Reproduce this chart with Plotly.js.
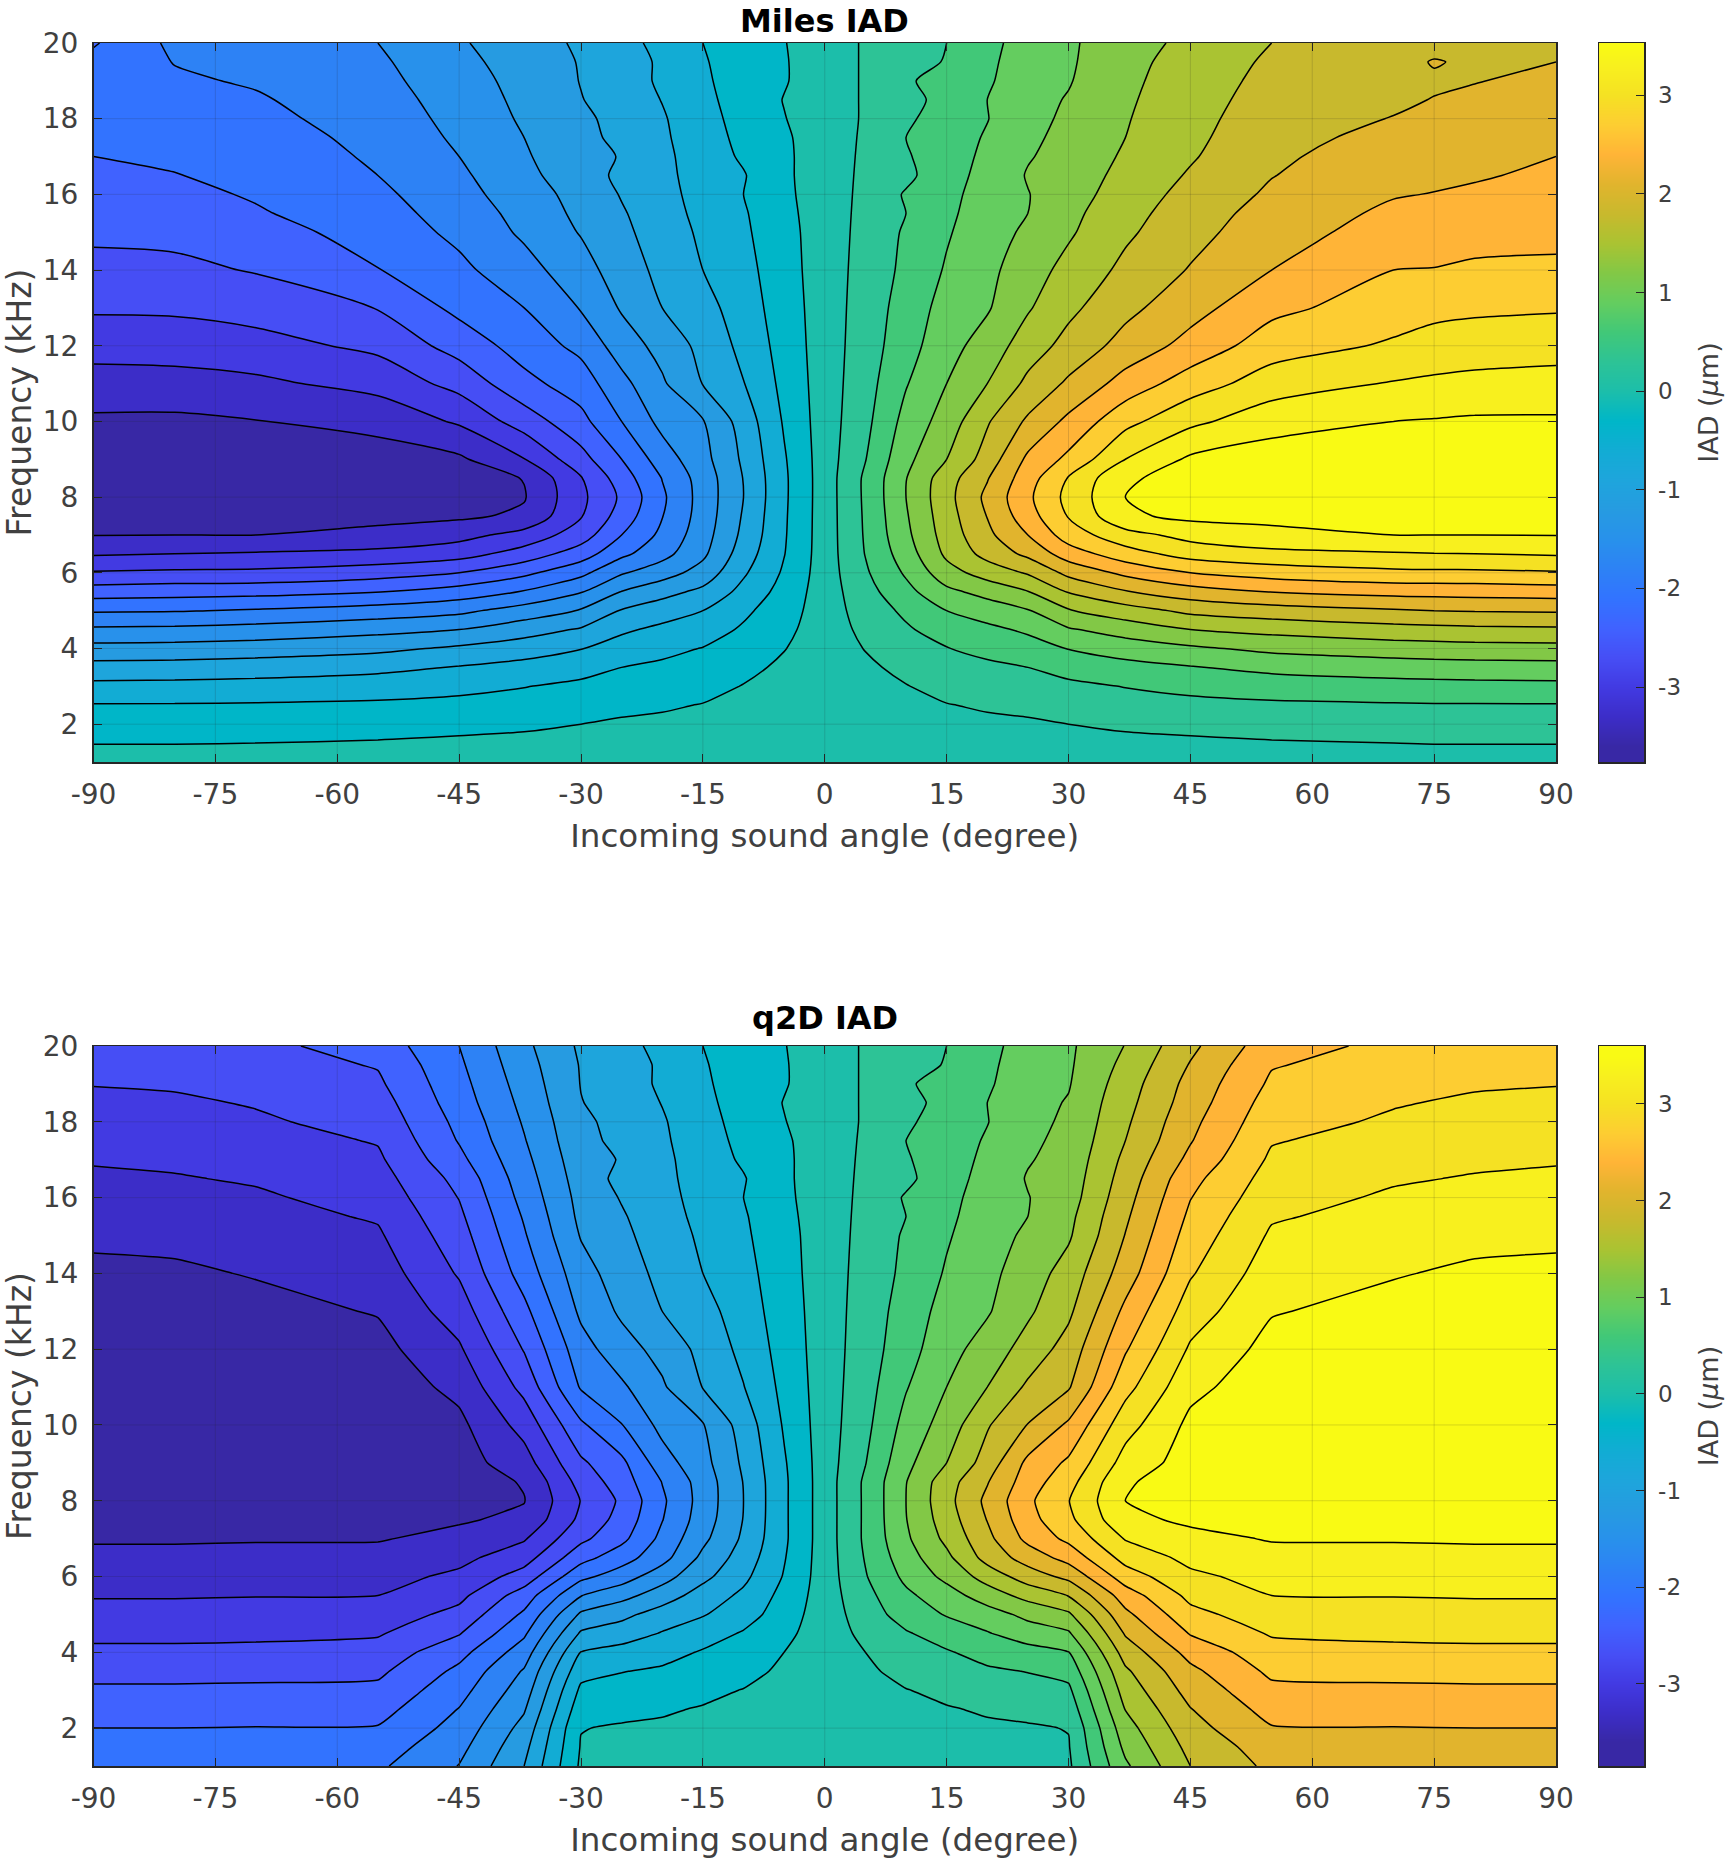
<!DOCTYPE html>
<html><head><meta charset="utf-8">
<script src="https://cdn.plot.ly/plotly-3.0.1.min.js"></script>
<style>html,body{margin:0;padding:0;background:#fff}</style></head>
<body><div id="chart" style="width:1725px;height:1860px"></div>
<script>
const frequencies=[1,1.5,2,2.5,3,3.5,4,4.5,5,5.5,6,6.5,7,7.5,8,8.5,9,10,11,12,13,14,15,15.5,16,16.5,17,17.5,18,18.5,19,19.5,20];
const anglesMiles=[-90,-80,-70,-55,-45,-37,-30,-25,-20,-15,-10,-5,0,5,10,15,20,25,30,37,45,55,70,75,80,90];
const anglesQ2D=[-90,-80,-70,-55,-45,-37,-30,-25,-20,-15,-10,-5,0,5,10,15,20,25,30,37,45,55,70,80,90];
const iadMiles=[
[0,0,0,-.02,-.02,-.03,-.03,-.02,-.02,-.01,-.01,0,0,0,.01,.01,.02,.02,.03,.03,.02,.02,0,0,0,0],
[-.16,-.16,-.15,-.13,-.1,-.09,-.07,-.06,-.05,-.04,-.03,-.01,0,.01,.03,.04,.05,.06,.07,.09,.1,.13,.15,.16,.16,.16],
[-.3,-.3,-.28,-.25,-.23,-.19,-.15,-.11,-.1,-.09,-.06,-.02,0,.02,.06,.09,.1,.11,.15,.19,.23,.25,.28,.29,.3,.3],
[-.43,-.43,-.42,-.4,-.37,-.32,-.27,-.22,-.18,-.14,-.1,-.03,0,.03,.1,.14,.18,.22,.27,.32,.37,.4,.42,.43,.43,.43],
[-.67,-.66,-.64,-.59,-.53,-.46,-.38,-.34,-.29,-.23,-.14,-.06,0,.06,.14,.23,.29,.34,.38,.46,.53,.59,.64,.65,.66,.67],
[-.94,-.93,-.9,-.83,-.73,-.65,-.57,-.45,-.4,-.33,-.22,-.1,0,.1,.22,.33,.4,.45,.57,.65,.73,.83,.9,.92,.93,.94],
[-1.25,-1.24,-1.2,-1.12,-1,-.89,-.76,-.62,-.52,-.44,-.31,-.16,0,.16,.31,.44,.52,.62,.76,.89,1,1.12,1.2,1.22,1.24,1.25],
[-1.6,-1.58,-1.54,-1.44,-1.35,-1.18,-1.02,-.8,-.68,-.59,-.41,-.22,0,.22,.41,.59,.68,.8,1.02,1.18,1.35,1.44,1.54,1.56,1.58,1.6],
[-1.98,-1.97,-1.92,-1.82,-1.72,-1.52,-1.33,-1.03,-.89,-.75,-.51,-.28,0,.28,.51,.75,.89,1.03,1.33,1.52,1.72,1.82,1.92,1.95,1.97,1.98],
[-2.4,-2.37,-2.35,-2.26,-2.12,-1.93,-1.67,-1.34,-1.15,-.98,-.66,-.34,0,.34,.66,.98,1.15,1.34,1.67,1.93,2.12,2.26,2.35,2.36,2.37,2.4],
[-2.82,-2.79,-2.78,-2.68,-2.55,-2.32,-2.03,-1.68,-1.48,-1.23,-.79,-.41,0,.41,.79,1.23,1.48,1.68,2.03,2.32,2.55,2.68,2.78,2.79,2.79,2.82],
[-3.18,-3.15,-3.12,-3.07,-2.97,-2.72,-2.4,-2.02,-1.75,-1.41,-.9,-.46,0,.46,.9,1.41,1.75,2.02,2.4,2.72,2.97,3.07,3.12,3.14,3.15,3.18],
[-3.46,-3.45,-3.45,-3.37,-3.25,-3.04,-2.7,-2.25,-1.88,-1.48,-.98,-.48,0,.48,.98,1.48,1.88,2.25,2.7,3.04,3.25,3.37,3.45,3.45,3.45,3.46],
[-3.62,-3.62,-3.6,-3.53,-3.5,-3.4,-2.87,-2.42,-1.96,-1.52,-1.02,-.49,0,.49,1.02,1.52,1.96,2.42,2.87,3.4,3.52,3.53,3.6,3.61,3.62,3.62],
[-3.72,-3.72,-3.7,-3.63,-3.57,-3.47,-2.92,-2.5,-2,-1.53,-1.05,-.5,0,.5,1.05,1.55,2.02,2.49,2.94,3.45,3.57,3.63,3.7,3.71,3.72,3.72],
[-3.76,-3.75,-3.73,-3.67,-3.58,-3.44,-2.87,-2.4,-1.94,-1.52,-1.04,-.5,0,.5,1.04,1.52,1.93,2.42,2.87,3.42,3.53,3.66,3.72,3.74,3.75,3.76],
[-3.72,-3.7,-3.67,-3.58,-3.5,-3.16,-2.66,-2.25,-1.8,-1.45,-1,-.48,0,.44,.97,1.35,1.78,2.31,2.62,3.15,3.5,3.6,3.64,3.66,3.68,3.72],
[-3.5,-3.51,-3.46,-3.36,-3.11,-2.71,-2.34,-1.95,-1.56,-1.37,-.92,-.42,0,.37,.85,1.18,1.62,2,2.32,2.76,3.08,3.33,3.45,3.47,3.49,3.49],
[-3.28,-3.26,-3.21,-3.05,-2.75,-2.34,-2.1,-1.74,-1.39,-1.04,-.76,-.37,0,.33,.73,1.05,1.35,1.72,2,2.37,2.7,3,3.17,3.21,3.24,3.26],
[-3.03,-3.02,-2.96,-2.78,-2.43,-2.12,-1.87,-1.5,-1.25,-.96,-.67,-.33,0,.3,.63,.94,1.18,1.5,1.75,2.06,2.35,2.71,2.89,2.95,2.99,3.03],
[-2.81,-2.8,-2.73,-2.54,-2.17,-1.95,-1.63,-1.32,-1.05,-.86,-.6,-.3,0,.28,.58,.86,1.02,1.32,1.58,1.87,2.14,2.47,2.71,2.78,2.8,2.82],
[-2.64,-2.62,-2.53,-2.26,-2.02,-1.76,-1.47,-1.2,-.97,-.75,-.55,-.27,0,.26,.52,.78,.97,1.22,1.44,1.72,1.97,2.25,2.55,2.56,2.6,2.6],
[-2.49,-2.47,-2.37,-2.13,-1.88,-1.6,-1.33,-1.12,-.9,-.7,-.5,-.25,0,.24,.49,.72,.93,1.1,1.31,1.6,1.85,2.13,2.37,2.41,2.44,2.48],
[-2.43,-2.4,-2.28,-2.07,-1.82,-1.55,-1.28,-1.08,-.87,-.67,-.48,-.23,0,.23,.45,.69,.9,1.05,1.27,1.55,1.8,2.07,2.31,2.34,2.37,2.42],
[-2.37,-2.33,-2.22,-2.01,-1.77,-1.47,-1.26,-1.03,-.85,-.64,-.45,-.21,0,.22,.48,.67,.87,1.04,1.21,1.5,1.74,2,2.23,2.26,2.3,2.37],
[-2.3,-2.26,-2.17,-1.95,-1.71,-1.41,-1.22,-.97,-.83,-.62,-.47,-.2,0,.21,.38,.64,.84,1.07,1.18,1.44,1.68,1.94,2.17,2.19,2.22,2.31],
[-2.25,-2.2,-2.12,-1.91,-1.65,-1.38,-1.17,-1.03,-.82,-.6,-.41,-.2,0,.2,.42,.62,.81,1.03,1.15,1.39,1.62,1.9,2.1,2.13,2.17,2.25],
[-2.2,-2.15,-2.08,-1.87,-1.6,-1.35,-1.13,-.98,-.8,-.57,-.38,-.19,0,.19,.45,.6,.78,1,1.12,1.35,1.58,1.86,2.03,2.07,2.11,2.19],
[-2.17,-2.1,-2.03,-1.82,-1.56,-1.31,-1.1,-.97,-.78,-.55,-.35,-.16,0,.18,.41,.56,.74,.98,1.09,1.33,1.55,1.82,1.96,2.01,2.05,2.13],
[-2.14,-2.05,-1.98,-1.78,-1.52,-1.28,-1.06,-.93,-.74,-.52,-.33,-.14,0,.18,.37,.53,.75,.95,1.07,1.31,1.52,1.78,1.9,1.96,2,2.07],
[-2.12,-1.99,-1.92,-1.74,-1.47,-1.26,-1.04,-.9,-.7,-.5,-.3,-.17,0,.18,.43,.51,.71,.93,1.03,1.29,1.49,1.74,1.87,1.91,1.94,2.01],
[-2.16,-1.94,-1.86,-1.7,-1.42,-1.24,-1.03,-.84,-.72,-.48,-.28,-.17,0,.18,.33,.47,.69,.9,1.01,1.27,1.46,1.7,1.84,1.97,1.9,1.95],
[-2.28,-1.88,-1.8,-1.65,-1.38,-1.2,-1,-.83,-.68,-.45,-.25,-.16,0,.18,.31,.45,.67,.87,1,1.25,1.41,1.65,1.8,1.84,1.87,1.88]
];
const iadQ2D=[
[-2.06,-2.06,-2.05,-2,-1.64,-1.05,-.1,-.02,-.02,-.01,-.01,0,0,0,.01,.01,.02,.02,.1,1,1.65,2.02,2.06,2.06,2.06],
[-2.15,-2.15,-2.14,-2.1,-1.74,-1.14,-.13,-.06,-.05,-.03,-.02,-.01,0,.01,.02,.03,.05,.06,.13,1.12,1.74,2.1,2.14,2.15,2.15],
[-2.25,-2.25,-2.24,-2.23,-1.84,-1.25,-.16,-.12,-.11,-.08,-.04,-.02,0,.02,.04,.08,.11,.12,.16,1.23,1.84,2.23,2.24,2.25,2.25],
[-2.38,-2.38,-2.37,-2.36,-1.94,-1.38,-.27,-.23,-.18,-.13,-.08,-.03,0,.03,.08,.13,.18,.23,.27,1.36,1.94,2.36,2.37,2.38,2.38],
[-2.5,-2.5,-2.49,-2.48,-2.06,-1.5,-.39,-.34,-.29,-.22,-.14,-.05,0,.05,.14,.22,.29,.34,.39,1.48,2.06,2.48,2.49,2.5,2.5],
[-2.65,-2.65,-2.64,-2.61,-2.18,-1.62,-.55,-.46,-.4,-.32,-.25,-.09,0,.09,.25,.32,.4,.46,.55,1.6,2.18,2.61,2.64,2.65,2.65],
[-2.79,-2.79,-2.78,-2.73,-2.35,-1.8,-.74,-.64,-.57,-.42,-.33,-.15,0,.15,.33,.42,.57,.64,.74,1.78,2.35,2.73,2.78,2.79,2.79],
[-2.92,-2.92,-2.91,-2.88,-2.57,-2,-1.01,-.9,-.73,-.6,-.42,-.22,0,.22,.42,.6,.73,.9,1.01,1.98,2.57,2.88,2.91,2.92,2.92],
[-3.05,-3.05,-3.04,-3.02,-2.76,-2.2,-1.3,-1.13,-.92,-.77,-.59,-.29,0,.29,.59,.77,.92,1.13,1.3,2.18,2.76,3.02,3.04,3.05,3.05],
[-3.17,-3.17,-3.16,-3.15,-2.93,-2.41,-1.66,-1.45,-1.2,-.92,-.69,-.36,0,.36,.69,.92,1.2,1.45,1.66,2.4,2.93,3.15,3.16,3.17,3.17],
[-3.27,-3.27,-3.26,-3.25,-3.09,-2.72,-2.03,-1.8,-1.47,-1.13,-.82,-.43,0,.43,.82,1.13,1.47,1.8,2.03,2.7,3.09,3.25,3.26,3.27,3.27],
[-3.38,-3.38,-3.37,-3.36,-3.23,-2.98,-2.36,-2.08,-1.76,-1.28,-.92,-.47,0,.47,.92,1.28,1.76,2.08,2.36,2.96,3.23,3.36,3.37,3.38,3.38],
[-3.48,-3.48,-3.47,-3.47,-3.37,-3.18,-2.62,-2.33,-1.87,-1.42,-1,-.5,0,.5,1,1.42,1.87,2.33,2.62,3.17,3.37,3.47,3.47,3.48,3.48],
[-3.56,-3.56,-3.55,-3.53,-3.48,-3.39,-2.78,-2.44,-1.96,-1.5,-1.04,-.5,0,.5,1.04,1.5,1.96,2.44,2.78,3.38,3.5,3.53,3.55,3.56,3.56],
[-3.63,-3.63,-3.62,-3.58,-3.55,-3.46,-2.84,-2.5,-2,-1.53,-1.05,-.5,0,.5,1.05,1.55,2.02,2.49,2.84,3.45,3.55,3.58,3.62,3.63,3.63],
[-3.69,-3.69,-3.68,-3.62,-3.58,-3.43,-2.74,-2.4,-1.94,-1.52,-1.04,-.5,0,.5,1.04,1.52,1.93,2.4,2.74,3.42,3.58,3.62,3.68,3.69,3.69],
[-3.74,-3.74,-3.72,-3.65,-3.58,-3.28,-2.6,-2.32,-1.78,-1.45,-1,-.48,0,.44,.97,1.35,1.78,2.32,2.6,3.27,3.58,3.65,3.72,3.74,3.74],
[-3.82,-3.8,-3.75,-3.67,-3.52,-3.04,-2.3,-1.96,-1.56,-1.37,-.92,-.42,0,.37,.85,1.18,1.62,1.96,2.3,3.03,3.52,3.67,3.75,3.8,3.82],
[-3.82,-3.78,-3.72,-3.63,-3.37,-2.76,-1.92,-1.7,-1.39,-1.04,-.76,-.37,0,.33,.73,1.05,1.35,1.7,1.92,2.75,3.37,3.63,3.72,3.78,3.82],
[-3.72,-3.7,-3.64,-3.55,-3.19,-2.53,-1.77,-1.47,-1.25,-.96,-.67,-.33,0,.3,.63,.94,1.18,1.47,1.77,2.52,3.19,3.55,3.64,3.7,3.72],
[-3.63,-3.6,-3.55,-3.43,-3,-2.33,-1.59,-1.3,-1.05,-.86,-.6,-.3,0,.28,.58,.86,1.02,1.3,1.59,2.32,3,3.43,3.55,3.6,3.63],
[-3.52,-3.5,-3.43,-3.31,-2.82,-2.12,-1.47,-1.2,-.97,-.75,-.55,-.27,0,.26,.52,.78,.97,1.2,1.47,2.1,2.82,3.31,3.43,3.5,3.52],
[-3.39,-3.37,-3.3,-3.19,-2.68,-1.98,-1.33,-1.12,-.9,-.7,-.5,-.25,0,.24,.49,.72,.93,1.1,1.31,1.96,2.68,3.19,3.3,3.37,3.39],
[-3.33,-3.31,-3.25,-3.12,-2.61,-1.92,-1.28,-1.08,-.87,-.67,-.48,-.23,0,.23,.45,.69,.9,1.05,1.27,1.9,2.61,3.12,3.25,3.31,3.33],
[-3.26,-3.24,-3.19,-3.04,-2.54,-1.85,-1.25,-1.03,-.85,-.64,-.45,-.21,0,.22,.48,.67,.87,1.04,1.21,1.84,2.54,3.04,3.19,3.24,3.26],
[-3.19,-3.17,-3.12,-2.97,-2.46,-1.79,-1.21,-.97,-.83,-.62,-.47,-.2,0,.21,.38,.64,.84,1.07,1.18,1.78,2.46,2.97,3.12,3.17,3.19],
[-3.13,-3.1,-3.05,-2.9,-2.33,-1.73,-1.17,-1.03,-.82,-.6,-.41,-.2,0,.2,.42,.62,.81,1.03,1.15,1.72,2.33,2.9,3.05,3.1,3.13],
[-3.07,-3.03,-2.97,-2.83,-2.23,-1.67,-1.13,-.98,-.8,-.57,-.38,-.19,0,.19,.45,.6,.78,1,1.12,1.65,2.23,2.83,2.97,3.03,3.07],
[-2.98,-2.96,-2.89,-2.75,-2.17,-1.62,-1.1,-.97,-.78,-.55,-.35,-.16,0,.18,.41,.56,.74,.98,1.09,1.6,2.17,2.75,2.89,2.96,2.98],
[-2.91,-2.89,-2.83,-2.68,-2.1,-1.57,-1.06,-.93,-.74,-.52,-.33,-.14,0,.18,.37,.53,.75,.95,1.07,1.55,2.1,2.68,2.83,2.89,2.91],
[-2.84,-2.82,-2.75,-2.6,-2.05,-1.52,-1.04,-.9,-.7,-.5,-.3,-.17,0,.18,.43,.51,.71,.93,1.03,1.5,2.05,2.6,2.75,2.82,2.84],
[-2.78,-2.74,-2.68,-2.53,-2,-1.47,-1.03,-.84,-.72,-.48,-.28,-.17,0,.18,.33,.47,.69,.9,1.01,1.43,1.97,2.53,2.68,2.74,2.78],
[-2.7,-2.67,-2.62,-2.43,-1.95,-1.42,-1,-.83,-.68,-.45,-.25,-.16,0,.18,.31,.45,.67,.87,1,1.36,1.88,2.43,2.62,2.67,2.7]
];
const angleTicks=[-90,-75,-60,-45,-30,-15,0,15,30,45,60,75,90];
const freqTicks=[2,4,6,8,10,12,14,16,18,20];
const barTicks=[-3,-2,-1,0,1,2,3];
const bandValues=[-3.6,-3.3,-3,-2.7,-2.4,-2.1,-1.8,-1.5,-1.2,-.9,-.6,-.3,0,.3,.6,.9,1.2,1.5,1.8,2.1,2.4,2.7,3,3.3,3.5];
const bandColors=['rgb(56,40,165)','rgb(60,45,200)','rgb(66,58,226)','rgb(70,78,245)','rgb(64,98,255)','rgb(50,115,255)','rgb(45,130,245)','rgb(40,145,235)','rgb(38,155,225)','rgb(30,165,220)','rgb(18,172,212)','rgb(0,182,200)','rgb(28,190,170)','rgb(45,195,150)','rgb(65,200,120)','rgb(100,205,95)','rgb(130,200,70)','rgb(170,195,50)','rgb(200,185,45)','rgb(225,180,45)','rgb(255,180,55)','rgb(253,205,50)','rgb(245,225,35)','rgb(248,240,30)','rgb(249,250,20)'];
const barRangeMiles=[-3.76,3.53];
const barRangeQ2D=[-3.85,3.6];

const W=1725,H=1860;
const px=(a,b)=>[a/W,b/W], py=(top,bottom)=>[1-bottom/H,1-top/H];
const ink='#262626', txt='#404040', font='"DejaVu Sans",sans-serif';
const bandScale=bandColors.map((c,i)=>[i/(bandColors.length-1),c]);
function contour(x,z,xa,ya,smooth){return {type:'contour',x:x,y:frequencies,z:z,xaxis:xa,yaxis:ya,showscale:false,autocontour:false,
  contours:{start:-3.45,end:3.45,size:.3,coloring:'fill',showlines:true},line:{color:'#000',width:1.5,smoothing:smooth},colorscale:bandScale,hoverinfo:'skip'};}
function bar(r,xa,ya){
  const stops=[[0,bandColors[0]]];
  bandValues.forEach((v,i)=>{if(v>r[0]&&v<r[1])stops.push([(v-r[0])/(r[1]-r[0]),bandColors[i]]);});
  stops.push([1,bandColors[bandColors.length-1]]);
  return {type:'heatmap',x:[0,1],y:r,z:[[r[0],r[0]],[r[1],r[1]]],zmin:r[0],zmax:r[1],zsmooth:'best',colorscale:stops,showscale:false,xaxis:xa,yaxis:ya,hoverinfo:'skip'};
}
function mainX(domain,anchor){return {domain:domain,anchor:anchor,range:[-90,90],tickvals:angleTicks,ticktext:angleTicks.map(String),ticks:'inside',ticklen:8,tickwidth:1,tickcolor:ink,ticklabelstandoff:7,
  showline:true,linecolor:ink,linewidth:1.5,mirror:'ticks',showgrid:false,zeroline:false,layer:'above traces',tickfont:{family:font,size:28,color:txt},
  title:{text:'Incoming sound angle (degree)',font:{family:font,size:32.5,color:txt},standoff:14}};}
function mainY(domain,anchor){return {domain:domain,anchor:anchor,range:[1,20],tickvals:freqTicks,ticktext:freqTicks.map(String),ticks:'inside',ticklen:8,tickwidth:1,tickcolor:ink,ticklabelstandoff:8,
  showline:true,linecolor:ink,linewidth:1.5,mirror:'ticks',showgrid:false,zeroline:false,layer:'above traces',tickfont:{family:font,size:28,color:txt},
  title:{text:'Frequency (kHz)',font:{family:font,size:33,color:txt},standoff:10}};}
function barX(domain,anchor){return {domain:domain,anchor:anchor,range:[0,1],showticklabels:false,ticks:'',showline:true,linecolor:ink,linewidth:1.5,mirror:true,showgrid:false,zeroline:false};}
function barY(domain,anchor,r){return {domain:domain,anchor:anchor,side:'right',range:r,tickvals:barTicks,ticktext:barTicks.map(String),ticks:'inside',ticklen:8,tickwidth:1,tickcolor:ink,ticklabelstandoff:8,
  showline:true,linecolor:ink,linewidth:1.5,mirror:true,showgrid:false,zeroline:false,layer:'above traces',tickfont:{family:font,size:23,color:txt},
  title:{text:'IAD (<i>μ</i>m)',font:{family:font,size:27,color:txt},standoff:19}};}
const gridStyle={color:'rgba(38,38,38,0.16)',width:1};
function gridShapes(xr,yr){
  const s=[];
  angleTicks.slice(1,-1).forEach(v=>s.push({type:'line',xref:xr,yref:yr+' domain',x0:v,x1:v,y0:0,y1:1,line:gridStyle,layer:'above'}));
  freqTicks.slice(0,-1).forEach(v=>s.push({type:'line',xref:xr+' domain',yref:yr,x0:0,x1:1,y0:v,y1:v,line:gridStyle,layer:'above'}));
  return s;
}
function heading(text,top){return {text:'<b>'+text+'</b>',xref:'paper',yref:'paper',x:824.5/W,y:1-top/H,xanchor:'center',yanchor:'middle',showarrow:false,font:{family:font,size:32,color:'#000'}};}
const layout={width:W,height:H,margin:{l:0,r:0,t:0,b:0},paper_bgcolor:'#fff',plot_bgcolor:'#fff',showlegend:false,
  xaxis:mainX(px(93.5,1556),'y'),yaxis:mainY(py(43,762),'x'),
  xaxis2:barX(px(1599,1644),'y2'),yaxis2:barY(py(43,762),'x2',barRangeMiles),
  xaxis3:mainX(px(93.5,1556),'y3'),yaxis3:mainY(py(1046,1766),'x3'),
  xaxis4:barX(px(1599,1644),'y4'),yaxis4:barY(py(1046,1766),'x4',barRangeQ2D),
  shapes:gridShapes('x','y').concat(gridShapes('x3','y3')),
  annotations:[heading('Miles IAD',21),heading('q2D IAD',1018)]};
Plotly.newPlot('chart',[contour(anglesMiles,iadMiles,'x','y',.8),bar(barRangeMiles,'x2','y2'),contour(anglesQ2D,iadQ2D,'x3','y3',.5),bar(barRangeQ2D,'x4','y4')],layout,{staticPlot:true,displayModeBar:false});
</script></body></html>
